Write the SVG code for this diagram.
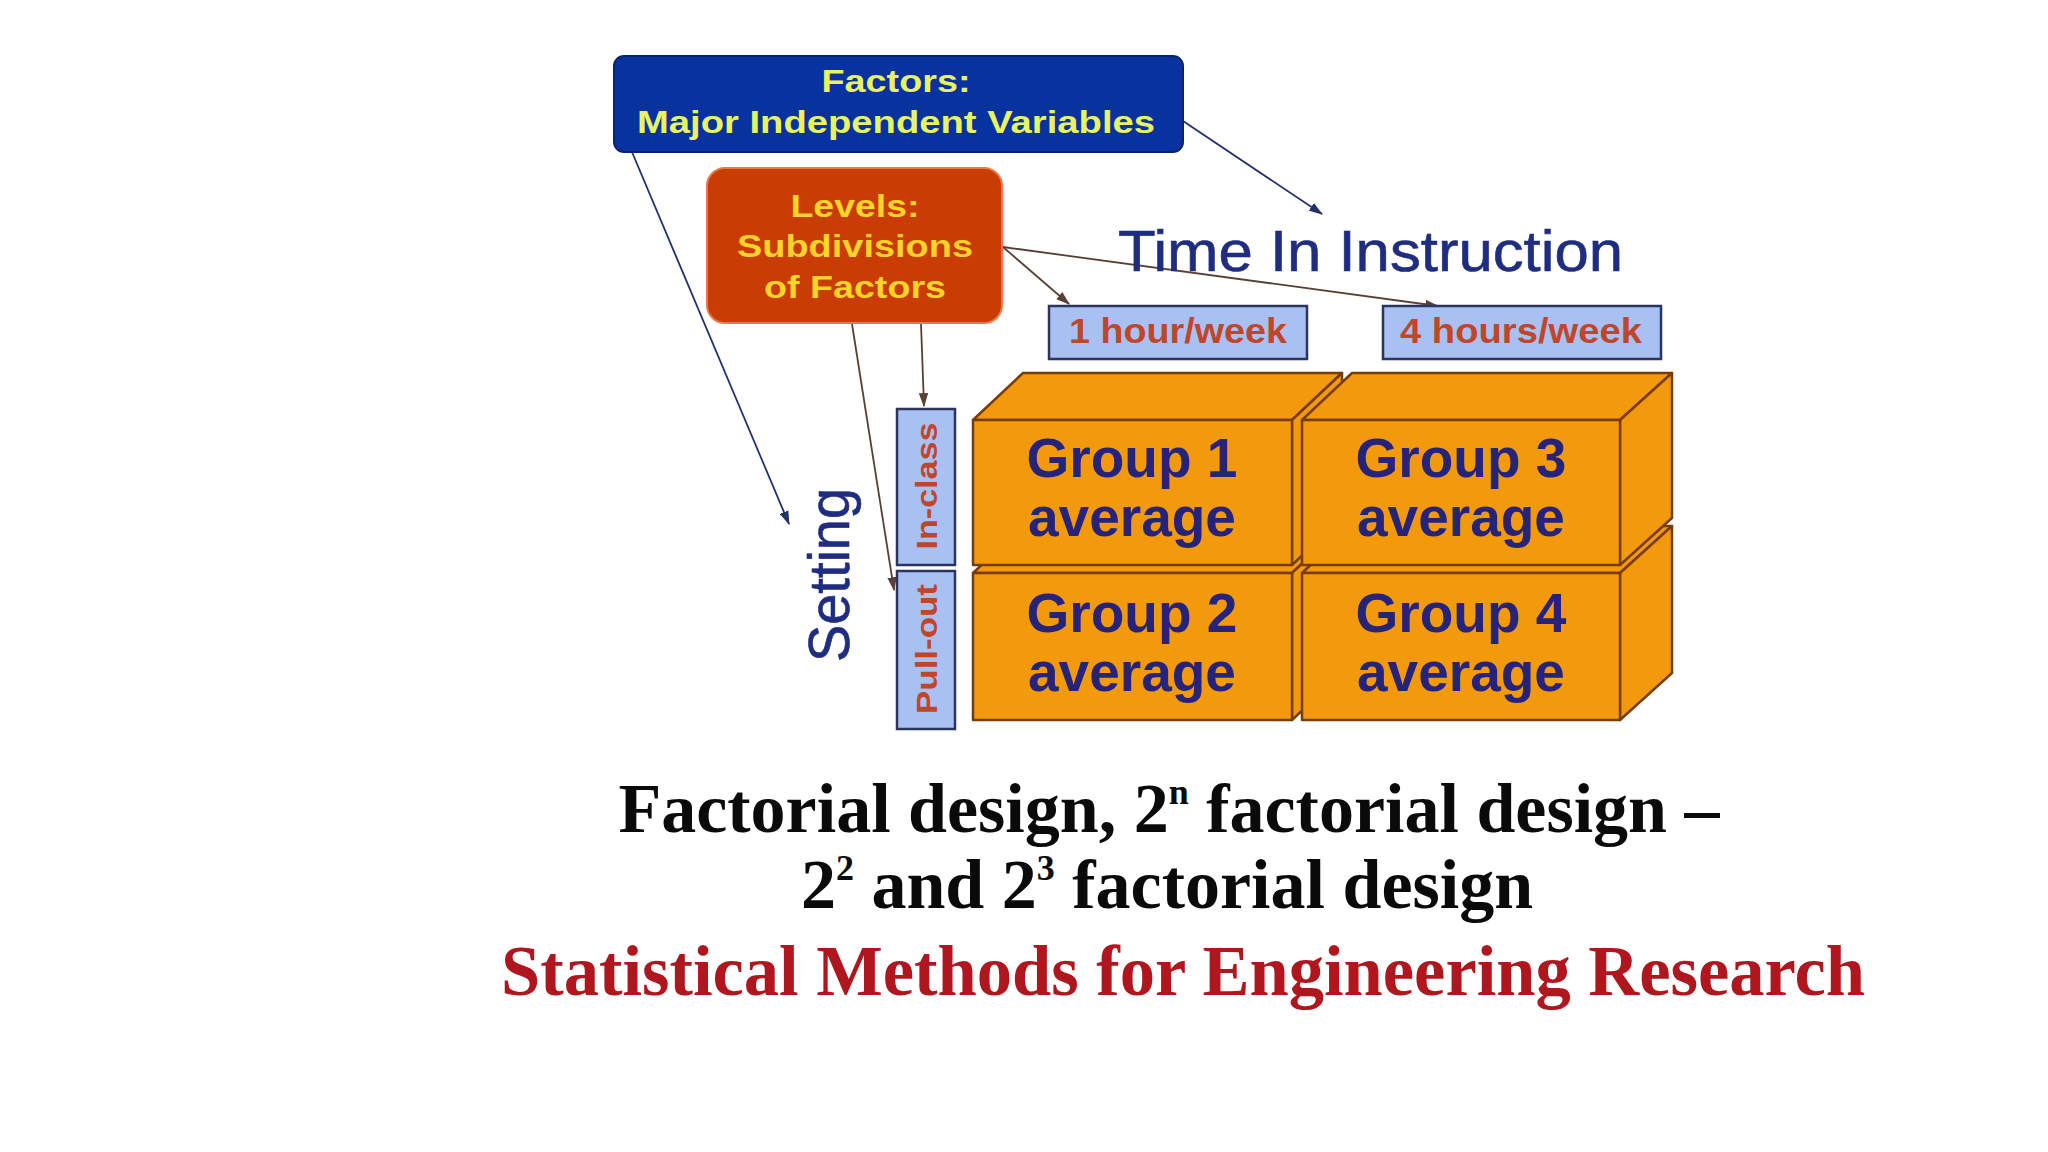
<svg xmlns="http://www.w3.org/2000/svg" width="2048" height="1152" viewBox="0 0 2048 1152">
<defs>
<marker id="arrB" viewBox="0 0 12 8" refX="11" refY="4" markerWidth="14" markerHeight="10" markerUnits="userSpaceOnUse" orient="auto"><path d="M0,0 L12,4 L0,8 z" fill="#22306e"/></marker>
<marker id="arrR" viewBox="0 0 12 8" refX="11" refY="4" markerWidth="14" markerHeight="10" markerUnits="userSpaceOnUse" orient="auto"><path d="M0,0 L12,4 L0,8 z" fill="#5a4034"/></marker>
<style>
.lblbox{fill:#a8c0f2;stroke:#2a3560;stroke-width:2.5}
.lbltxt{font-family:"Liberation Sans",Arial,sans-serif;font-weight:bold;fill:#c0462a;text-anchor:middle}
.face{fill:#f39a0c;stroke:#7a3c06;stroke-width:2.5;stroke-linejoin:round}
.grp{font-family:"Liberation Sans",Arial,sans-serif;font-weight:bold;font-size:55px;fill:#25237a;text-anchor:middle}
.axis{font-family:"Liberation Sans",Arial,sans-serif;font-size:57px;fill:#1f2d80;stroke:#1f2d80;stroke-width:0.6}
.connB{stroke:#22306e;stroke-width:1.8;fill:none}
.connR{stroke:#5a4034;stroke-width:1.8;fill:none}
.title{font-family:"Liberation Serif","Times New Roman",serif;font-weight:bold;text-anchor:middle}
</style>
</defs>
<rect width="2048" height="1152" fill="#ffffff"/>

<g id="connectors">
<line class="connB" x1="632" y1="152" x2="789" y2="524" marker-end="url(#arrB)"/>
<line class="connB" x1="1183" y1="121" x2="1322" y2="214" marker-end="url(#arrB)"/>
<line class="connR" x1="1003" y1="247" x2="1069" y2="304" marker-end="url(#arrR)"/>
<line class="connR" x1="1003" y1="247" x2="1438" y2="306" marker-end="url(#arrR)"/>
<line class="connR" x1="921" y1="324" x2="924" y2="406" marker-end="url(#arrR)"/>
<line class="connR" x1="852" y1="324" x2="894" y2="590" marker-end="url(#arrR)"/>
</g>

<g id="factors">
<rect x="614" y="56" width="569" height="96" rx="10" fill="#0832a0" stroke="#0a2470" stroke-width="2"/>
<text x="896" y="92" font-family="'Liberation Sans',Arial,sans-serif" font-weight="bold" font-size="31" fill="#e8f262" text-anchor="middle" textLength="149" lengthAdjust="spacingAndGlyphs">Factors:</text>
<text x="896" y="133" font-family="'Liberation Sans',Arial,sans-serif" font-weight="bold" font-size="31" fill="#e8f262" text-anchor="middle" textLength="518" lengthAdjust="spacingAndGlyphs">Major Independent Variables</text>
</g>

<g id="levels">
<rect x="707" y="168" width="295" height="155" rx="18" fill="#c93c04" stroke="#e87a4a" stroke-width="2"/>
<text x="855" y="217" font-family="'Liberation Sans',Arial,sans-serif" font-weight="bold" font-size="31" fill="#ffd428" text-anchor="middle" textLength="129" lengthAdjust="spacingAndGlyphs">Levels:</text>
<text x="855" y="257" font-family="'Liberation Sans',Arial,sans-serif" font-weight="bold" font-size="31" fill="#ffd428" text-anchor="middle" textLength="236" lengthAdjust="spacingAndGlyphs">Subdivisions</text>
<text x="855" y="298" font-family="'Liberation Sans',Arial,sans-serif" font-weight="bold" font-size="31" fill="#ffd428" text-anchor="middle" textLength="182" lengthAdjust="spacingAndGlyphs">of Factors</text>
</g>

<g id="time-in-instruction">
<text class="axis" x="1118" y="271" textLength="505" lengthAdjust="spacingAndGlyphs">Time In Instruction</text>
</g>

<g id="setting">
<text class="axis" transform="translate(849,575) rotate(-90)" x="0" y="0" text-anchor="middle" textLength="174" lengthAdjust="spacingAndGlyphs">Setting</text>
</g>

<g id="one-hour">
<rect class="lblbox" x="1049" y="306" width="258" height="53"/>
<text class="lbltxt" x="1178" y="343" font-size="35" textLength="218" lengthAdjust="spacingAndGlyphs">1 hour/week</text>
</g>

<g id="four-hours">
<rect class="lblbox" x="1383" y="306" width="278" height="53"/>
<text class="lbltxt" x="1521" y="343" font-size="35" textLength="242" lengthAdjust="spacingAndGlyphs">4 hours/week</text>
</g>

<g id="in-class">
<rect class="lblbox" x="897" y="409" width="58" height="156"/>
<text class="lbltxt" transform="translate(937,486) rotate(-90)" x="0" y="0" font-size="30" textLength="127" lengthAdjust="spacingAndGlyphs">In-class</text>
</g>

<g id="pull-out">
<rect class="lblbox" x="897" y="571" width="58" height="158"/>
<text class="lbltxt" transform="translate(937,649) rotate(-90)" x="0" y="0" font-size="30" textLength="130" lengthAdjust="spacingAndGlyphs">Pull-out</text>
</g>

<g id="group2">
<polygon class="face" points="973,573 1023,526 1342,526 1292,573"/>
<polygon class="face" points="1292,573 1342,526 1342,673 1292,720"/>
<rect class="face" x="973" y="573" width="319" height="147"/>
<text class="grp" x="1132" y="632">Group 2</text>
<text class="grp" x="1132" y="691">average</text>
</g>

<g id="group4">
<polygon class="face" points="1302,573 1352,526 1672,526 1620,573"/>
<polygon class="face" points="1620,573 1672,526 1672,673 1620,720"/>
<rect class="face" x="1302" y="573" width="318" height="147"/>
<text class="grp" x="1461" y="632">Group 4</text>
<text class="grp" x="1461" y="691">average</text>
</g>

<g id="group1">
<polygon class="face" points="973,420 1023,373 1342,373 1292,420"/>
<polygon class="face" points="1292,420 1342,373 1342,518 1292,565"/>
<rect class="face" x="973" y="420" width="319" height="145"/>
<text class="grp" x="1132" y="477">Group 1</text>
<text class="grp" x="1132" y="536">average</text>
</g>

<g id="group3">
<polygon class="face" points="1302,420 1352,373 1672,373 1620,420"/>
<polygon class="face" points="1620,420 1672,373 1672,518 1620,565"/>
<rect class="face" x="1302" y="420" width="318" height="145"/>
<text class="grp" x="1461" y="477">Group 3</text>
<text class="grp" x="1461" y="536">average</text>
</g>

<g id="titles">
<text class="title" x="1169" y="832" font-size="70" fill="#0a0a0a">Factorial design, 2<tspan font-size="36" dy="-28">n</tspan><tspan dy="28"> factorial design –</tspan></text>
<text class="title" x="1167" y="908" font-size="70" fill="#0a0a0a">2<tspan font-size="36" dy="-28">2</tspan><tspan dy="28"> and 2</tspan><tspan font-size="36" dy="-28">3</tspan><tspan dy="28"> factorial design</tspan></text>
<text class="title" x="1183" y="995" font-size="72" fill="#b0161e" textLength="1364" lengthAdjust="spacingAndGlyphs">Statistical Methods for Engineering Research</text>
</g>
</svg>
